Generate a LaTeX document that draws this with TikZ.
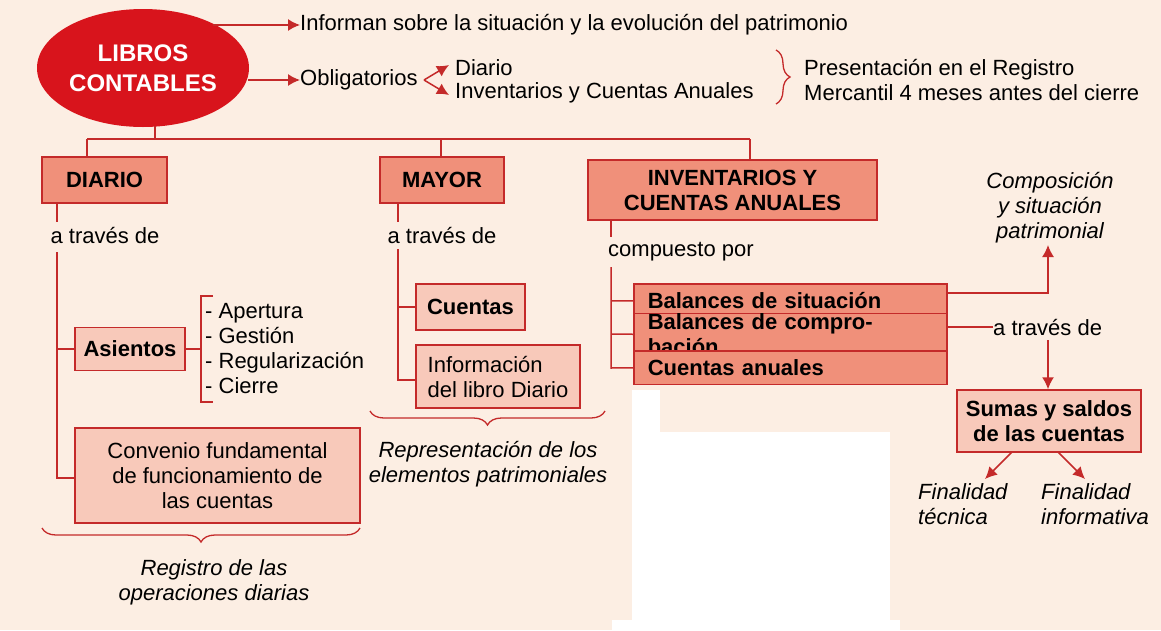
\documentclass[tikz,border=0pt]{standalone}
\usepackage{fontspec}
\setmainfont{Liberation Sans}
\usetikzlibrary{decorations.pathreplacing,arrows.meta,shapes.geometric}
\definecolor{bg}{HTML}{FCEEE3}
\definecolor{ln}{HTML}{C42A2A}
\definecolor{dk}{HTML}{F0907A}
\definecolor{lt}{HTML}{F8C9BA}
\definecolor{el}{HTML}{D8141C}
\tikzset{x=1pt,y=-1pt,
 t/.style={font=\fontsize{22}{25}\selectfont,inner sep=0pt},
 it/.style={t,font=\fontsize{22}{25}\selectfont\itshape,align=center},
 bx/.style={draw=ln,line width=1.5pt,font=\fontsize{22}{25}\selectfont\bfseries,inner sep=0pt},
 dbox/.style={bx,fill=dk},
 lbox/.style={bx,fill=lt},
 con/.style={draw=ln,line width=1.5pt},
 arr/.style={con,-{Latex[length=12pt,width=12pt]}},
 brc/.style={draw=ln,line width=1.3pt,decorate,decoration={brace,amplitude=14pt}}}
\begin{document}
\begin{tikzpicture}
\fill[bg] (0,0) rectangle (1161,630);
\fill[white] (632,390) rectangle (660,432);
\fill[white] (632,432) rectangle (890,622);
\fill[white] (612,620) rectangle (900,630);
\useasboundingbox (0,0) rectangle (1161,630);
% ellipse
\node[ellipse,fill=el,minimum width=212,minimum height=118,text=white,align=center,font=\fontsize{24}{30}\selectfont\bfseries,inner sep=0pt] (lc) at (143,68) {LIBROS\\CONTABLES};
\node[t,anchor=west] (inf) at (300,25) {Informan sobre la situación y la evolución del patrimonio};
\coordinate (a1) at (213,25);
\draw[arr] (a1) -- (inf.west);
\node[t,anchor=west] (obl) at (300,80) {Obligatorios};
\coordinate (a2) at (248,80);
\draw[arr] (a2) -- (obl.west);
\node[t,anchor=west] (dia) at (455,68) {Diario};
\node[t,anchor=west] (inv) at (455,93) {Inventarios y Cuentas Anuales};
\coordinate (o1) at (424,80);
\coordinate (o2) at (449,65);
\coordinate (o3) at (449,95);
\draw[arr] (o1) -- (o2);
\draw[arr] (o1) -- (o3);
\coordinate (b1) at (776,50); \coordinate (b2) at (776,104);
\draw[brc] (b1) -- (b2);
\node[t,anchor=west,align=left] (pres) at (804,80) {Presentación en el Registro\\Mercantil 4 meses antes del cierre};
% main boxes
\node[dbox,minimum width=125,minimum height=46] (D) at (104.5,180) {DIARIO};
\node[dbox,minimum width=124,minimum height=46] (M) at (442,180) {MAYOR};
\node[dbox,minimum width=289,minimum height=60,align=center] (I) at (732.5,190) {INVENTARIOS Y\\CUENTAS ANUALES};
\coordinate (e0) at (155,126); \coordinate (e1) at (155,139);
\coordinate (h1) at (87,139); \coordinate (h2) at (441,139); \coordinate (h3) at (750,139);
\draw[con] (e0) -- (e1);
\draw[con] (h1) -- (h3);
\draw[con] (h1) -- (h1|-D.north);
\draw[con] (h2) -- (h2|-M.north);
\draw[con] (h3) -- (h3|-I.north);
% DIARIO branch
\node[t] (dt) at (105,235) {a través de};
\node[lbox,minimum width=110,minimum height=43] (as) at (130,349) {Asientos};
\node[lbox,minimum width=285,minimum height=95,align=center,font=\fontsize{22}{25}\selectfont] (cv) at (217.5,475.5) {Convenio fundamental\\de funcionamiento de\\las cuentas};
\coordinate (d1) at (57,203); \coordinate (d2) at (57,222); \coordinate (d3) at (57,252); \coordinate (d4) at (57,478);
\draw[con] (d1) -- (d2);
\draw[con] (d3) -- (d4) -- (cv.west|-d4);
\draw[con] (57,349) -- (as.west);
\draw[con] (as.east) -- (201,349);
\draw[con] (213,296) -- (201,296) -- (201,402) -- (213,402);
\node[t,anchor=west,align=left] (lst) at (205,349) {- Apertura\\- Gestión\\- Regularización\\- Cierre};
\coordinate (r1) at (360,528); \coordinate (r2) at (42,528);
\draw[brc] (r1) -- (r2);
\node[it] (reg) at (214,582) {Registro de las\\operaciones diarias};
% MAYOR branch
\node[t] (mt) at (442,235) {a través de};
\node[lbox,minimum width=109,minimum height=46] (cu) at (470.5,307) {Cuentas};
\node[lbox,minimum width=164,minimum height=63,align=left,font=\fontsize{22}{25}\selectfont] (in) at (498,376.5) {Información\\del libro Diario};
\draw[con] (398,203) -- (398,222);
\draw[con] (398,249) -- (398,380) -- (in.west|-0,380);
\draw[con] (398,307) -- (cu.west);
\coordinate (m1) at (605,411); \coordinate (m2) at (370,411);
\draw[brc] (m1) -- (m2);
\node[it] (rep) at (488,464) {Representación de los\\elementos patrimoniales};
% INV branch
\node[t,anchor=west] (cp) at (608,252) {compuesto por};
\tikzset{sb/.style={dbox,minimum width=313,minimum height=33.5,anchor=west,inner xsep=14pt,text width=285,align=left}}
\node[sb] (s1) at (633,300.75) {Balances de situación};
\node[sb] (s2) at (633,334.25) {Balances de comprobación};
\node[sb] (s3) at (633,367.75) {Cuentas anuales};
\draw[con] (611,220) -- (611,237);
\draw[con] (611,267) -- (611,368) -- (s3.west);
\draw[con] (611,301) -- (s1.west);
\draw[con] (611,334) -- (s2.west);
\node[it] (comp) at (1050,208) {Composición\\y situación\\patrimonial};
\draw[arr] (s1.east|-0,293) -- (1048,293) -- (1048,245);
\node[t,anchor=west] (at3) at (993,327) {a través de};
\draw[con] (s2.east|-0,327) -- (at3.west);
\node[lbox,minimum width=184,minimum height=62,align=center] (su) at (1049,421) {Sumas y saldos\\de las cuentas};
\draw[arr] (1048,340) -- (su.north-|1048,0);
\node[it,align=left,anchor=north west] (ft) at (918,483) {Finalidad\\técnica};
\node[it,align=left,anchor=north west] (fi) at (1041,483) {Finalidad\\informativa};
\draw[arr] (1012,452) -- (985,479);
\draw[arr] (1058,452) -- (1085,479);
\end{tikzpicture}
\end{document}
